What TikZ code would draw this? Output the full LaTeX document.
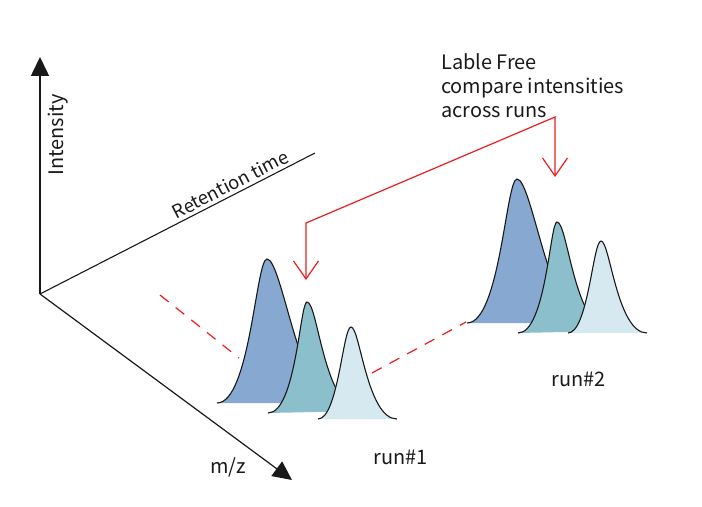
\documentclass[tikz,border=0pt]{standalone}
\usepackage{fontspec}
\setmainfont{Noto Sans CJK SC}
\usetikzlibrary{arrows.meta}
\definecolor{peakblue}{RGB}{135,168,208}
\definecolor{peakteal}{RGB}{139,191,204}
\definecolor{peaklight}{RGB}{214,233,240}
\definecolor{markred}{RGB}{232,30,30}
\tikzset{
  axis/.style={draw=black!90, line width=1.3bp},
  axis tip/.style={-{Triangle[length=19bp, width=18bp]}},
  label text/.style={font=\fontsize{20}{24.5}\selectfont, text=black!90, inner sep=0pt},
  peak line/.style={draw=black!90, line width=1.1bp},
  compare/.style={draw=markred, line width=1.2bp,
    {Straight Barb[length=18bp, width=25bp]}-{Straight Barb[length=18bp, width=25bp]}},
  guide/.style={draw=markred, line width=1.2bp, dash pattern=on 11bp off 9bp},
}

\begin{document}
\begin{tikzpicture}[x=1bp, y=-1bp]
  \useasboundingbox (0,0) rectangle (702,507);

  % Axes
  \coordinate (O) at (40,294);
  \coordinate (int tip) at (40,57);
  \coordinate (rt end) at (315,153);
  \coordinate (mz tip) at (292,480);
  \draw[axis, axis tip, line width=1.6bp] (O) -- (int tip);
  \draw[axis, line width=1.1bp] (O) -- (rt end)
    node[label text, font=\fontsize{18.5}{22}\selectfont, pos=0.71, above=3bp, sloped]
      (rt label) {Retention time};
  \draw[axis, axis tip, line width=1.2bp] (O) -- (mz tip);
  \node[label text, rotate=90] (int label) at (58,135) {Intensity};
  \node[label text] (mz label) at (228,467) {m/z};

  % Guide lines between runs
  \coordinate (g1a) at (160,295);
  \coordinate (g1b) at (239,358);
  \coordinate (g2a) at (372,373);
  \coordinate (g2b) at (466,322);
  \draw[guide] (g1a) -- (g1b);
  \draw[guide] (g2a) -- (g2b);

  % Peaks of both runs
  \foreach \dx/\dy/\dyc in {0/0/0, 250/-80/-86} {
    \begin{scope}[shift={(\dx,\dy)}]
      \draw[peak line, fill=peakblue] (217,403)
        .. controls (250,403) and (256,259) .. (267,259)
        .. controls (282,259) and (300,403) .. (335,403);
      \draw[peak line, fill=peakteal] (268,413)
        .. controls (296,413) and (300,302) .. (307,302)
        .. controls (318,302) and (324,411) .. (362,411);
    \end{scope}
    \begin{scope}[shift={(\dx,\dyc)}]
      \draw[peak line, fill=peaklight] (318,419)
        .. controls (338,419) and (343,327) .. (351,327)
        .. controls (360,327) and (367,419) .. (397,419);
    \end{scope}
  }
  \node[label text] (run1) at (401,457) {run\#1};
  \node[label text] (run2) at (579,379) {run\#2};

  % Comparison arrows
  \node[label text, align=left, anchor=north west] (title) at (441,53)
    {Lable Free\\compare intensities\\across runs};
  \coordinate (tip1) at (306,280);
  \coordinate (bend1) at (306,223);
  \coordinate (bend2) at (555,117);
  \coordinate (tip2) at (555,177);
  \draw[compare] (tip1) -- (bend1) -- (bend2) -- (tip2);
\end{tikzpicture}
\end{document}
